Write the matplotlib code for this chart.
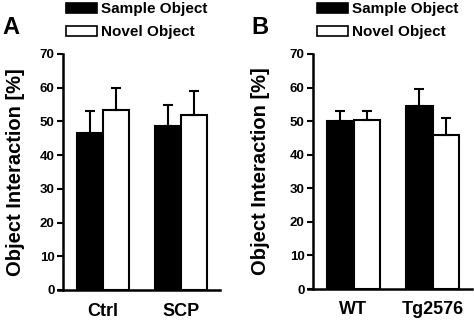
import numpy as np
import matplotlib
matplotlib.use("Agg")
import matplotlib.pyplot as plt
from matplotlib.patches import Patch

plt.rcParams['font.family'] = ['Liberation Sans', 'DejaVu Sans']
plt.rcParams['font.weight'] = 'bold'

# Panel A data
groups_a = ['Ctrl', 'SCP']
sample_a = [46.5, 48.5]
sample_a_err = [6.5, 6.5]
novel_a = [53.3, 52.0]
novel_a_err = [6.5, 7.0]

# Panel B data
groups_b = ['WT', 'Tg2576']
sample_b = [50.0, 54.5]
sample_b_err = [3.0, 5.0]
novel_b = [50.3, 46.0]
novel_b_err = [2.8, 5.0]

yticks = [0, 10, 20, 30, 40, 50, 60, 70]
legend_labels = ['Sample Object', 'Novel Object']

fig = plt.figure(figsize=(4.74, 3.22), dpi=100)
W, H = 474, 322


def draw_panel(rect, groups, samp, samp_err, nov, nov_err, letter, letter_xy, leg_xy, ylab_x):
    ax = fig.add_axes(rect)
    x = np.arange(len(groups))
    w = 0.333
    ek = dict(lw=1.5, capsize=3.5, capthick=1.5, ecolor='black')
    ax.bar(x - w / 2, samp, w, color='black', edgecolor='black', linewidth=1.5,
           yerr=[np.zeros(len(samp)), samp_err], error_kw=ek, zorder=2)
    ax.bar(x + w / 2, nov, w, color='white', edgecolor='black', linewidth=1.5,
           yerr=[np.zeros(len(nov)), nov_err], error_kw=ek, zorder=2)
    ax.set_xlim(-0.513, 1.5)
    ax.set_ylim(0, 70)
    ax.set_yticks(yticks)
    ax.set_yticklabels([str(t) for t in yticks], fontsize=9.5, fontweight='bold')
    ax.set_xticks(x)
    ax.set_xticklabels(groups, fontsize=13, fontweight='bold')
    ax.tick_params(axis='x', length=0, pad=9)
    ax.tick_params(axis='y', length=4.5, width=1.5, pad=1.5)
    for s in ['top', 'right']:
        ax.spines[s].set_visible(False)
    for s in ['left', 'bottom']:
        ax.spines[s].set_linewidth(1.8)
    ax.spines['bottom'].set_bounds(-0.58, 1.5)
    ax.set_ylabel('Object Interaction [%]', fontsize=14.5, fontweight='bold', va='center')
    ax.yaxis.set_label_coords(ylab_x, 0.5)
    fig.text(letter_xy[0] / W, 1 - letter_xy[1] / H, letter, fontsize=17,
             fontweight='bold', ha='left', va='center')
    handles = [Patch(facecolor='black', edgecolor='black', linewidth=1.2),
               Patch(facecolor='white', edgecolor='black', linewidth=1.2)]
    fig.legend(handles, legend_labels, loc='upper left',
               bbox_to_anchor=(leg_xy[0] / W, 1 - leg_xy[1] / H), frameon=False,
               handlelength=2.0, handleheight=0.65, handletextpad=0.3,
               labelspacing=0.62, borderpad=0, borderaxespad=0,
               prop={'weight': 'bold', 'size': 11})
    return ax


draw_panel([63 / W, 1 - 290 / H, 157 / W, 236 / H], groups_a, sample_a, sample_a_err,
           novel_a, novel_a_err, 'A', (2, 28), (66, 2), -0.30)
draw_panel([313 / W, 1 - 289 / H, 159 / W, 235 / H], groups_b, sample_b, sample_b_err,
           novel_b, novel_b_err, 'B', (251, 28), (317, 2), -0.33)

fig.savefig('out.png', dpi=100, facecolor='white')
